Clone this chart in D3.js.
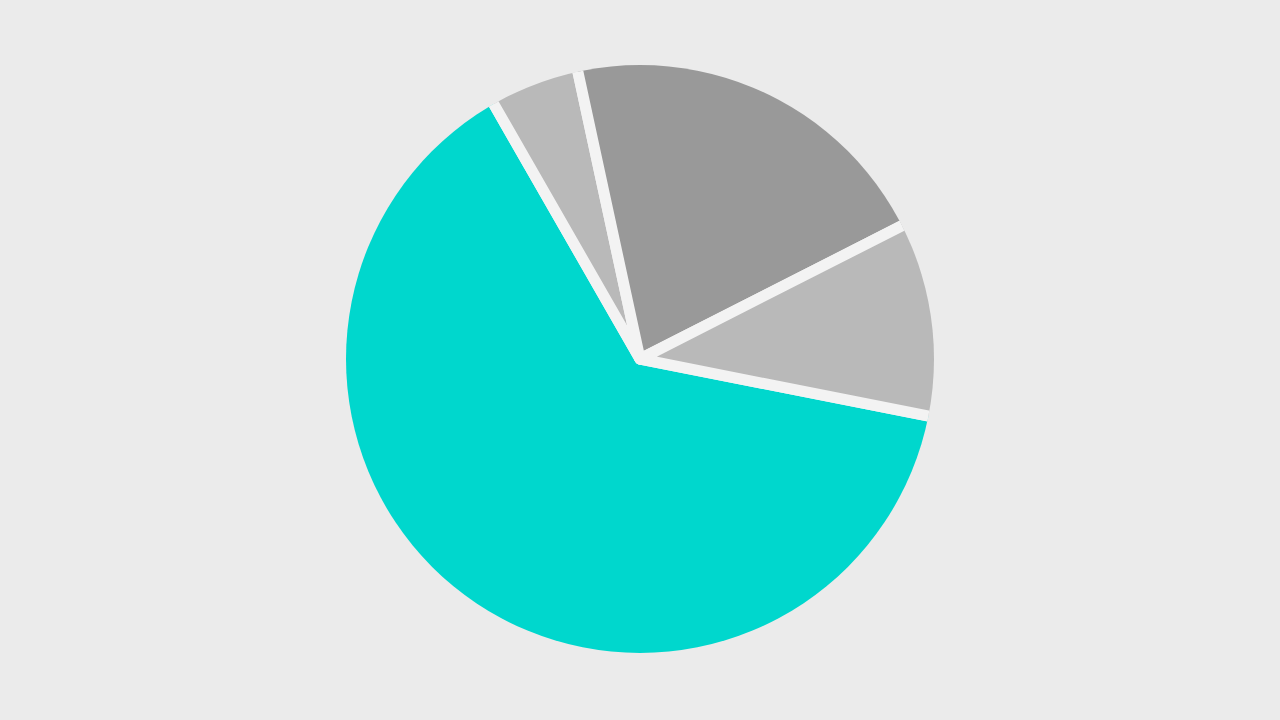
<!DOCTYPE html>
<html>
<head>
<meta charset="utf-8">
<script src="https://cdn.jsdelivr.net/npm/d3@7"></script>
<style>
  html, body { margin: 0; padding: 0; background: #ebebeb; }
  svg { display: block; }
</style>
</head>
<body>
<svg id="chart" width="1280" height="720"></svg>
<script>
const categories = ["A", "B", "C", "D"];
const values = [63.6, 4.9, 20.9, 10.6];
const colors = ["#00d7cd", "#b9b9b9", "#999999", "#b9b9b9"];

const width = 1280, height = 720;
const cx = 640, cy = 359, radius = 294;
const startDeg = 101.2;

const svg = d3.select("#chart");
svg.append("rect").attr("width", width).attr("height", height).attr("fill", "#ebebeb");

const defs = svg.append("defs");
defs.append("clipPath").attr("id", "pieClip")
  .append("circle").attr("r", radius);

const data = categories.map((c, i) => ({ name: c, value: values[i], color: colors[i] }));

const pie = d3.pie()
  .sort(null)
  .value(d => d.value)
  .startAngle(startDeg * Math.PI / 180)
  .endAngle((startDeg + 360) * Math.PI / 180);

// drawn a bit larger than the visible radius so the outer stroke band is clipped away
const arc = d3.arc().innerRadius(0).outerRadius(radius + 12);

const g = svg.append("g")
  .attr("transform", `translate(${cx},${cy})`)
  .attr("clip-path", "url(#pieClip)");

g.selectAll("path")
  .data(pie(data))
  .join("path")
  .attr("d", arc)
  .attr("fill", d => d.data.color)
  .attr("stroke", "#f3f3f3")
  .attr("stroke-width", 11)
  .attr("stroke-linejoin", "round");
</script>
</body>
</html>
